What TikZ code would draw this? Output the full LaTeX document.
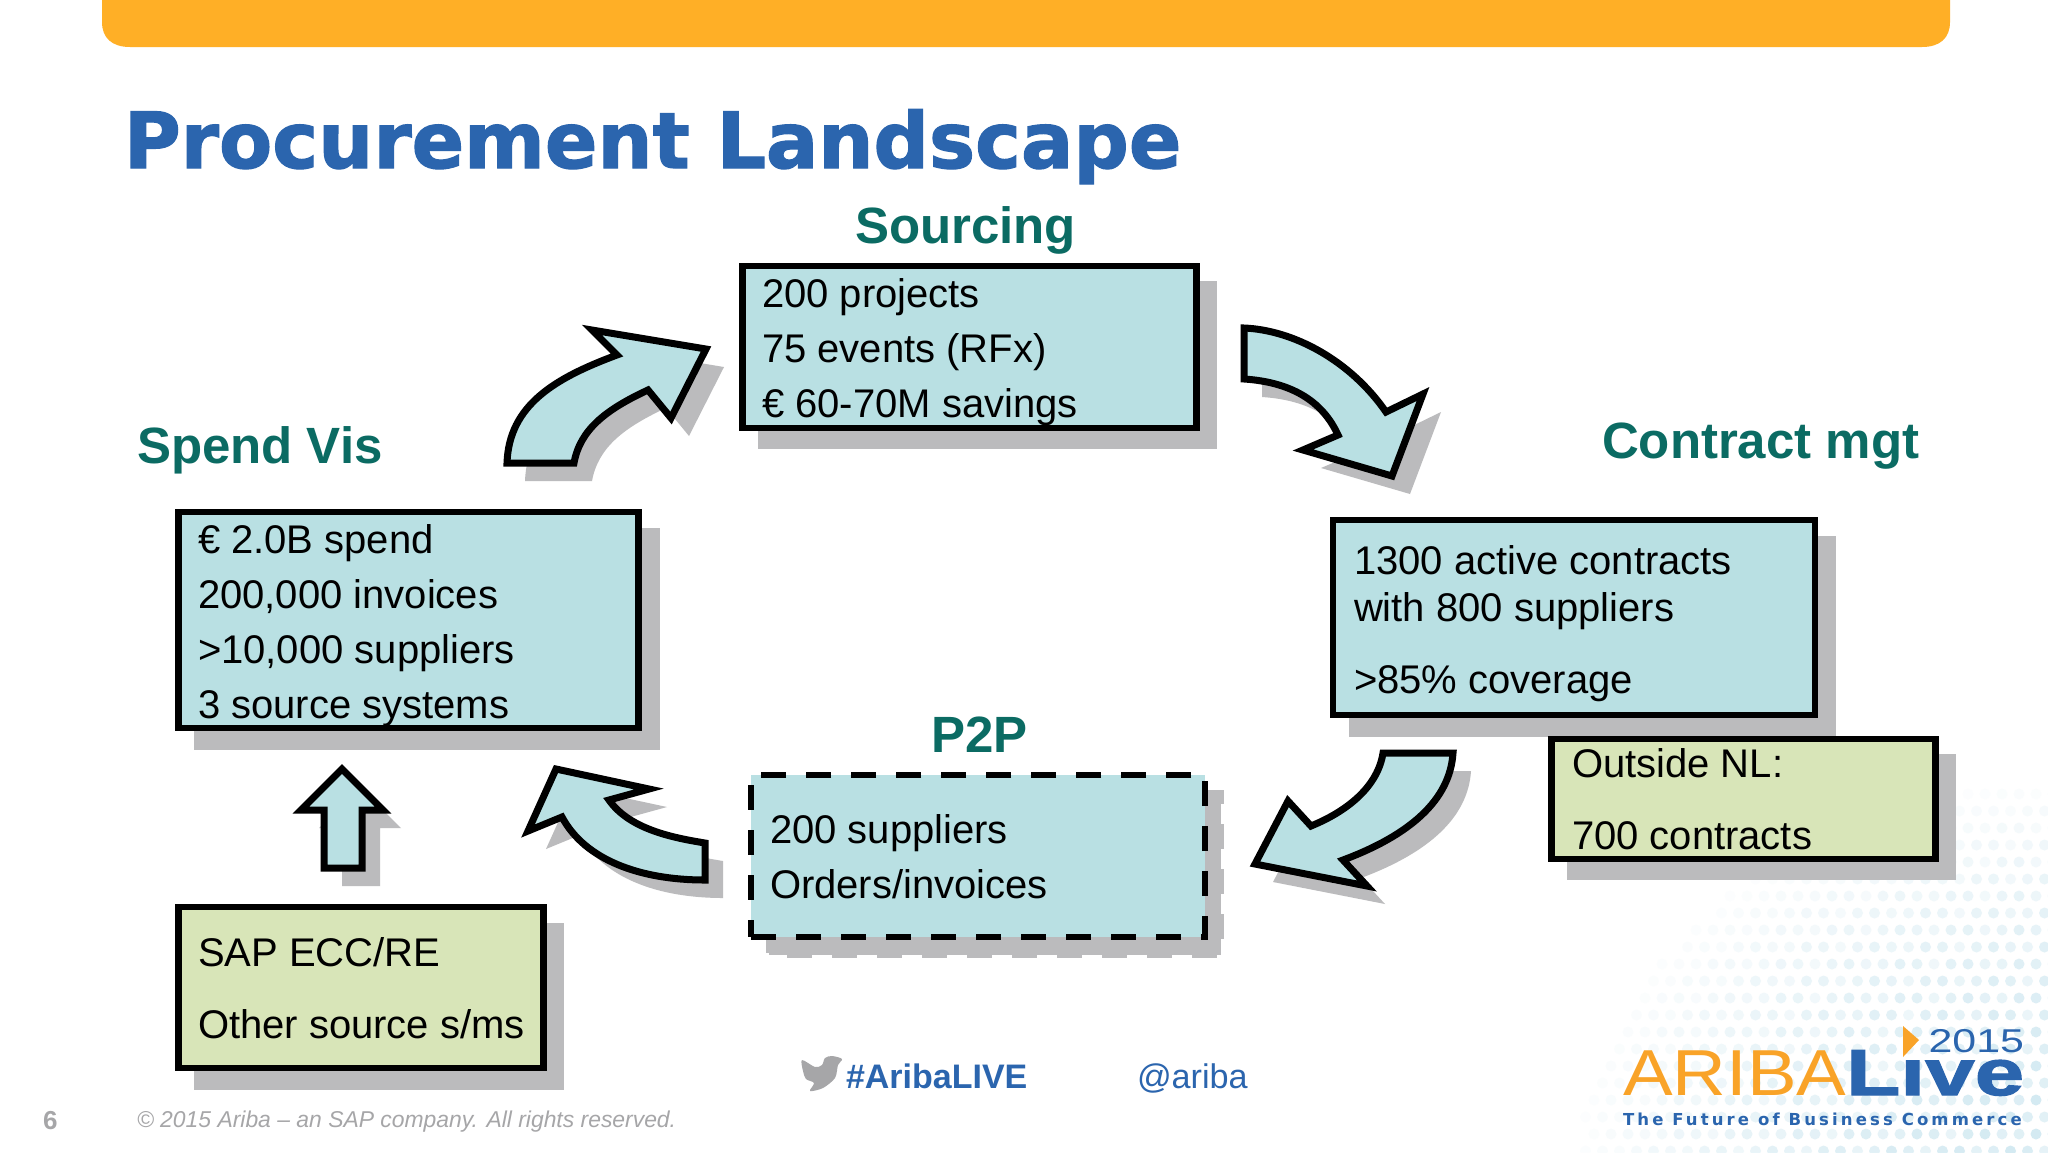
\documentclass[tikz,border=0pt]{standalone}
\usepackage{fontspec}
\setmainfont{Liberation Sans}
\newfontfamily\titlefont{DejaVu Sans Bold}[FakeBold=1.6]
\newfontfamily\tagfont{DejaVu Sans Bold}[LetterSpace=19]
\newfontfamily\livefont{Liberation Sans Bold}[FakeStretch=1.37,FakeBold=2]
\newfontfamily\aribafont{Liberation Sans}[FakeStretch=1.145]
\newfontfamily\yearfont{Liberation Sans}[FakeStretch=1.3]
\definecolor{barorange}{HTML}{FFAF26}
\definecolor{titleblue}{HTML}{2B65AE}
\definecolor{teal}{HTML}{0B6B63}
\definecolor{boxblue}{HTML}{B9E0E3}
\definecolor{boxgreen}{HTML}{D8E5B8}
\definecolor{shadowgray}{HTML}{BBBBBD}
\definecolor{footgray}{HTML}{A6A6A8}
\definecolor{logoorange}{HTML}{F9A328}
\definecolor{dotblue}{HTML}{BFE0EC}
\tikzset{
  x=1pt,y=-1pt,
  every node/.style={inner sep=0pt,outer sep=0pt},
  panel/.style={draw=black,line width=6.5pt,anchor=north west,rectangle},
  bluepanel/.style={panel,fill=boxblue},
  greenpanel/.style={panel,fill=boxgreen},
  dashpanel/.style={bluepanel,dash pattern=on 25pt off 20pt},
  shadowfill/.style={fill=shadowgray,draw=none},
  blockarrow/.style={fill=boxblue,draw=black,line width=7pt,miter limit=10,line join=miter},
  bodytext/.style={anchor=base west,font=\fontsize{40}{48}\selectfont,text=black},
  heading/.style={anchor=base west,font=\fontsize{51}{60}\selectfont\bfseries,text=teal},
}
\def\arrowA{(507,463) .. controls (509,405) and (555,378) .. (617,355) -- (592,330) -- (706,349) -- (671,418) -- (648,390) .. controls (605,410) and (580,430) .. (574,463) -- cycle}
\def\arrowB{(1244,328) .. controls (1293,330) and (1350,360) .. (1386,412) -- (1423,394) -- (1392,476) -- (1303,450) -- (1338,435) .. controls (1322,400) and (1290,382) .. (1244,379) -- cycle}
\def\arrowC{(1383,753) -- (1453,753) .. controls (1450,800) and (1410,835) .. (1343,860) -- (1367,886) -- (1255,864) -- (1288,801) -- (1311,826) .. controls (1350,810) and (1378,785) .. (1383,753) -- cycle}
\def\arrowD{(705,843) .. controls (675,838) and (630,830) .. (609,800) -- (649,789) -- (556,769) -- (528,831) -- (562,817) .. controls (585,860) and (640,880) .. (705,880) -- cycle}
\def\arrowE{(342,769) -- (383,810) -- (362,810) -- (362,868) -- (324,868) -- (324,810) -- (301,810) -- cycle}
\begin{document}
\begin{tikzpicture}
\useasboundingbox (0,0) rectangle (2048,1152);
\fill[white] (0,0) rectangle (2048,1152);
% background dots
\begin{scope}
\clip (0,0) rectangle (2048,1152);
\foreach \i in {0,...,29}{
  \foreach \j in {0,...,23}{
    \pgfmathsetmacro{\px}{1560+\i*17+mod(\j,2)*8.5}
    \pgfmathsetmacro{\py}{760+\j*17}
    \pgfmathsetmacro{\dd}{((\px-2100)/520)^2+((\py-1170)/390)^2}
    \ifdim \dd pt<1pt
      \pgfmathsetmacro{\op}{(1-\dd)*(0.30+0.35*abs(sin(\px*3+\py*5)))+0.04}
      \fill[dotblue,opacity=\op] (\px,\py) circle (5.5);
    \fi
  }
}
\end{scope}
% bar
\fill[barorange] (102,0) -- (1950,0) -- (1950,22) .. controls (1950,38) and (1940,47) .. (1922,47) -- (130,47) .. controls (112,47) and (102,38) .. (102,22) -- cycle;
\node[anchor=base west,font=\fontsize{77.5}{80}\selectfont\titlefont,text=titleblue] (title) at (124,168) {Procurement Landscape};
% headings
\node[heading] (hsrc) at (855,243) {Sourcing};
\node[heading] (hspend) at (137,463) {Spend Vis};
\node[heading] (hcontract) at (1602,458) {Contract mgt};
\node[heading] (hpp) at (931,752) {P2P};
% shadows
\fill[shadowfill] (758,281) rectangle (1217,449);
\fill[shadowfill] (194,528) rectangle (660,750);
\fill[shadowfill] (1349,536) rectangle (1836,737);
\fill[shadowfill] (1567,754) rectangle (1956,880);
\fill[shadowfill] (194,923) rectangle (564,1090);
\draw[shadowgray,line width=6pt,fill=shadowgray,dash pattern=on 25pt off 20pt] (769,793) rectangle (1221,955);
\foreach \a in {\arrowA,\arrowB,\arrowC,\arrowD,\arrowE}{
  \fill[shadowfill,shift={(18,18)}] \a;
}
% block arrows
\draw[blockarrow] \arrowA;
\draw[blockarrow] \arrowB;
\draw[blockarrow] \arrowC;
\draw[blockarrow] \arrowD;
\draw[blockarrow] \arrowE;
% panels
\node[bluepanel,minimum width=454pt,minimum height=162pt] (src) at (742.5,266) {};
\node[bluepanel,minimum width=460pt,minimum height=216pt] (spend) at (178.5,512) {};
\node[bluepanel,minimum width=482pt,minimum height=195pt] (contract) at (1333,520) {};
\node[greenpanel,minimum width=384pt,minimum height=120pt] (outside) at (1551.5,739) {};
\node[dashpanel,minimum width=454pt,minimum height=162pt] (pp) at (751,775) {};
\node[greenpanel,minimum width=365pt,minimum height=161pt] (sap) at (178.5,907) {};
% panel text
\node[bodytext] (t1) at (762,307) {200 projects};
\node[bodytext] (t2) at (762,362) {75 events (RFx)};
\node[bodytext] (t3) at (762,417) {€ 60-70M savings};
\node[bodytext] (t4) at (198,553) {€ 2.0B spend};
\node[bodytext] (t5) at (198,608) {200,000 invoices};
\node[bodytext] (t6) at (198,663) {>10,000 suppliers};
\node[bodytext] (t7) at (198,718) {3 source systems};
\node[bodytext] (t8) at (1354,574) {1300 active contracts};
\node[bodytext] (t9) at (1354,621) {with 800 suppliers};
\node[bodytext] (t10) at (1354,693) {>85\% coverage};
\node[bodytext] (t11) at (1572,777) {Outside NL:};
\node[bodytext] (t12) at (1572,849) {700 contracts};
\node[bodytext] (t13) at (770,843) {200 suppliers};
\node[bodytext] (t14) at (770,898) {Orders/invoices};
\node[bodytext] (t15) at (198,966) {SAP ECC/RE};
\node[bodytext] (t16) at (198,1038) {Other source s/ms};
% footer
\fill[footgray] plot[smooth cycle,tension=0.5] coordinates {(802,1060) (815,1067) (822,1065) (825,1058) (832,1056) (842,1059) (838,1065) (835,1078) (823,1088) (810,1091) (814,1083) (806,1079) (803,1071)};
\node[anchor=base west,font=\fontsize{34}{40}\selectfont\bfseries,text=titleblue] (tag) at (846,1088) {\#AribaLIVE};
\node[anchor=base west,font=\fontsize{34.2}{40}\selectfont,text=titleblue] (handle) at (1137,1088) {@ariba};
\node[anchor=base west,font=\fontsize{26}{28}\selectfont\bfseries,text=footgray] (pagenum) at (43,1129) {6};
\node[anchor=base west,font=\fontsize{22.9}{28}\selectfont\itshape,text=footgray] (copyright) at (137,1127) {© 2015 Ariba – an SAP company. All rights reserved.};
% logo
\node[anchor=base west,font=\fontsize{65}{70}\selectfont\aribafont,text=logoorange] (aribaword) at (1623,1095) {ARIBA};
\begin{scope}
\clip (1840,1040) -- (1899,1040) -- (1899,1058) -- (2040,1058) -- (2040,1110) -- (1840,1110) -- cycle;
\node[anchor=base west,font=\fontsize{65}{70}\selectfont\livefont,text=titleblue] (liveword) at (1846,1095) {Live};
\end{scope}
\fill[logoorange] (1903,1026) -- (1919,1040) -- (1903,1057) -- cycle;
\node[anchor=base east,font=\fontsize{33}{36}\selectfont\yearfont,text=titleblue] (year) at (2024,1052) {2015};
\node[anchor=base west,font=\fontsize{16.5}{20}\selectfont\tagfont,text=titleblue] (tagline) at (1623,1125) {The Future of Business Commerce};
\end{tikzpicture}
\end{document}
